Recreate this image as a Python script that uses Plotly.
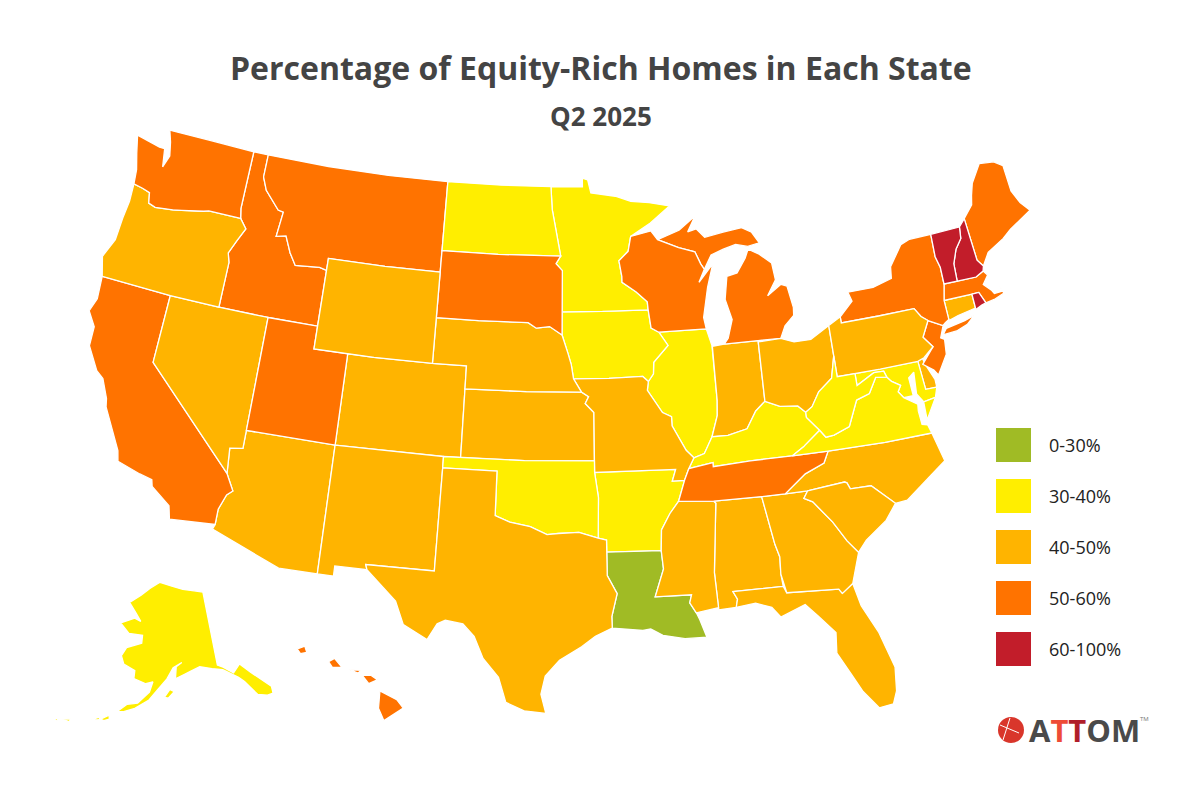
import plotly.graph_objects as go

# state outlines (lon, lat), traced by hand because the plotly base map needs a CDN download
WA = [(-124.7,48.38),(-123.1,48.15),(-122.75,48.15),(-122.55,47.35),(-122.3,47.9),(-122.5,48.5),(-122.76,49),(-117.03,49),(-117.04,46.42),(-116.92,46),(-118.98,46),(-119.3,45.93),(-120.65,45.73),(-121.2,45.65),(-122.3,45.55),(-122.76,45.65),(-122.9,46.1),(-123.4,46.2),(-124,46.27),(-124.1,46.9),(-124.4,47.6)]
OR = [(-124,46.27),(-123.4,46.2),(-122.9,46.1),(-122.76,45.65),(-122.3,45.55),(-121.2,45.65),(-120.65,45.73),(-119.3,45.93),(-118.98,46),(-116.92,46),(-116.46,45.6),(-116.85,45),(-117.2,44.4),(-117.03,44),(-117.03,42),(-120,42),(-124.21,42),(-124.55,42.84),(-124.1,43.7),(-124.05,44.7),(-123.95,45.5)]
CA = [(-124.21,42),(-120,42),(-120,39),(-114.63,35),(-114.14,34.3),(-114.43,34.08),(-114.72,33.4),(-114.72,32.72),(-117.12,32.53),(-117.3,33.1),(-118.4,33.75),(-118.5,34.03),(-119.2,34.15),(-120.5,34.45),(-120.65,34.9),(-121.9,36.6),(-122,36.95),(-122.5,37.75),(-122.95,38),(-123.75,38.95),(-123.8,39.8),(-124.35,40.4),(-124.1,41)]
NV = [(-120,42),(-117.03,42),(-114.04,42),(-114.04,36.2),(-114.75,36.1),(-114.63,35),(-120,39)]
ID = [(-117.03,49),(-116.05,49),(-116.05,48),(-115.7,47.45),(-114.7,46.7),(-114.35,46.65),(-114.5,45.55),(-113.9,45.65),(-113.45,44.95),(-113,44.45),(-111.5,44.55),(-111.05,44.47),(-111.05,42),(-114.04,42),(-117.03,42),(-117.03,44),(-117.2,44.4),(-116.85,45),(-116.46,45.6),(-116.92,46),(-117.04,46.42)]
MT = [(-116.05,49),(-112,49),(-108,49),(-104.05,49),(-104.05,45.94),(-104.05,45),(-107.5,45),(-111.05,45),(-111.05,44.47),(-111.5,44.55),(-113,44.45),(-113.45,44.95),(-113.9,45.65),(-114.5,45.55),(-114.35,46.65),(-114.7,46.7),(-115.7,47.45),(-116.05,48)]
WY = [(-111.05,45),(-107.5,45),(-104.05,45),(-104.05,43),(-104.05,41),(-107.5,41),(-111.05,41),(-111.05,42)]
UT = [(-114.04,42),(-111.05,42),(-111.05,41),(-109.05,41),(-109.05,37),(-114.04,37)]
CO = [(-109.05,41),(-107.5,41),(-104.05,41),(-102.05,41),(-102.05,40),(-102.05,37),(-103,37),(-109.05,37)]
AZ = [(-114.04,37),(-109.05,37),(-109.05,31.33),(-111.07,31.33),(-114.81,32.5),(-114.72,32.72),(-114.72,33.4),(-114.43,34.08),(-114.14,34.3),(-114.63,35),(-114.75,36.1),(-114.04,36.2)]
NM = [(-109.05,37),(-103,37),(-103,36.5),(-103.04,32),(-106.62,32),(-106.53,31.78),(-108.21,31.78),(-108.21,31.33),(-109.05,31.33)]
ND = [(-104.05,49),(-100.5,49),(-97.23,49),(-97.13,48),(-96.85,47),(-96.56,45.94),(-100.5,45.94),(-104.05,45.94)]
SD = [(-104.05,45.94),(-100.5,45.94),(-96.56,45.94),(-96.85,45.6),(-96.45,45.3),(-96.45,43.5),(-96.45,42.49),(-97.2,42.85),(-98,42.77),(-98.5,43),(-101.5,43),(-104.05,43)]
NE = [(-104.05,43),(-101.5,43),(-98.5,43),(-98,42.77),(-97.2,42.85),(-96.45,42.49),(-96.1,41.7),(-95.9,41.2),(-95.77,40.58),(-95.31,40),(-98.5,40),(-102.05,40),(-102.05,41),(-104.05,41)]
KS = [(-102.05,40),(-98.5,40),(-95.31,40),(-94.9,39.8),(-95.1,39.5),(-94.61,39.11),(-94.62,37),(-98.5,37),(-102.05,37)]
OK = [(-103,37),(-98.5,37),(-94.62,37),(-94.62,36.5),(-94.43,35.4),(-94.48,33.64),(-95.5,33.9),(-96.6,33.85),(-97.2,33.8),(-98.1,34.13),(-99.2,34.3),(-100,34.56),(-100,36.5),(-103,36.5)]
TX = [(-103,36.5),(-100,36.5),(-100,34.56),(-99.2,34.3),(-98.1,34.13),(-97.2,33.8),(-96.6,33.85),(-95.5,33.9),(-94.48,33.64),(-94.04,33.55),(-94.04,33.02),(-94.04,32),(-93.55,31.2),(-93.85,30.2),(-93.84,29.7),(-94.7,29.35),(-95.4,28.9),(-96.5,28.3),(-97.2,27.6),(-97.4,26.8),(-97.15,25.95),(-98.2,26.05),(-99.1,26.4),(-99.5,27.5),(-100.3,28.3),(-100.8,29.25),(-101.4,29.77),(-102.3,29.88),(-102.7,29.7),(-103.15,28.98),(-104.4,29.55),(-104.9,30.55),(-106.53,31.78),(-106.62,32),(-103.04,32)]
MN = [(-97.23,49),(-95.15,49),(-95.15,49.38),(-94.8,49.3),(-94.6,48.72),(-93,48.55),(-92,48.3),(-90.8,48.2),(-89.5,48),(-90.8,47.3),(-92.1,46.75),(-92.3,46.1),(-92.9,45.7),(-92.75,45),(-92.75,44.75),(-91.9,44.3),(-91.25,43.85),(-91.22,43.5),(-94,43.5),(-96.45,43.5),(-96.45,45.3),(-96.85,45.6),(-96.56,45.94),(-96.85,47),(-97.13,48)]
IA = [(-96.45,43.5),(-94,43.5),(-91.22,43.5),(-91.1,42.7),(-90.65,42.5),(-90.15,41.9),(-91.05,41.2),(-91.1,40.7),(-91.42,40.38),(-91.73,40.61),(-93.7,40.58),(-95.77,40.58),(-95.9,41.2),(-96.1,41.7),(-96.45,42.49)]
MO = [(-95.77,40.58),(-93.7,40.58),(-91.73,40.61),(-91.42,40.38),(-91.5,40),(-90.7,39),(-90.2,38.8),(-90.2,38.4),(-89.5,37.3),(-89.1,36.95),(-89.42,36.5),(-89.7,36),(-90.37,36),(-90.15,36.5),(-94.62,36.5),(-94.62,37),(-94.61,39.11),(-95.1,39.5),(-94.9,39.8),(-95.31,40)]
AR = [(-94.62,36.5),(-90.15,36.5),(-90.37,36),(-89.7,36),(-90.1,35.1),(-90.6,34.6),(-91.1,33.9),(-91.17,33),(-94.04,33.02),(-94.04,33.55),(-94.48,33.64),(-94.43,35.4)]
LA = [(-94.04,33.02),(-91.17,33),(-91.1,32.2),(-91.6,31),(-89.73,31),(-89.85,30.65),(-89.55,30.2),(-89.4,29.9),(-89.1,29.1),(-90.2,29.1),(-91.3,29.3),(-91.9,29.6),(-92.3,29.55),(-93.84,29.7),(-93.85,30.2),(-93.55,31.2),(-94.04,32)]
MS = [(-91.17,33),(-91.1,33.9),(-90.6,34.6),(-90.1,35.1),(-88.2,35),(-88.1,34.9),(-88.47,31.9),(-88.4,30.35),(-89.55,30.2),(-89.85,30.65),(-89.73,31),(-91.6,31),(-91.1,32.2)]
AL = [(-88.2,35),(-85.6,35),(-85.18,32.87),(-85,32.3),(-85.05,31.55),(-85,31),(-87.6,31),(-87.4,30.65),(-87.5,30.3),(-88.4,30.25),(-88.47,31.9),(-88.1,34.9)]
TN = [(-90.1,35.1),(-88.2,35),(-85.6,35),(-84.32,35),(-83.1,35.75),(-82,36.1),(-81.68,36.59),(-83.68,36.6),(-86,36.6),(-88.07,36.5),(-88.07,36.68),(-89.42,36.5),(-89.7,36)]
KY = [(-89.42,36.5),(-88.07,36.68),(-88.07,36.5),(-86,36.6),(-83.68,36.6),(-82.95,36.95),(-81.97,37.54),(-82.6,38.17),(-82.6,38.4),(-83,38.72),(-84,38.8),(-84.82,39.1),(-85.4,38.73),(-86,38),(-87.1,37.8),(-88,37.8),(-88.5,37.1),(-89.1,36.95)]
IL = [(-90.65,42.5),(-87.8,42.5),(-87.55,41.75),(-87.53,39.35),(-87.6,38.7),(-88,37.8),(-88.5,37.1),(-89.1,36.95),(-89.5,37.3),(-90.2,38.4),(-90.2,38.8),(-90.7,39),(-91.5,40),(-91.42,40.38),(-91.1,40.7),(-91.05,41.2),(-90.15,41.9)]
WI = [(-92.1,46.75),(-90.8,46.95),(-90.4,46.55),(-89.1,46.14),(-88.1,45.9),(-87.8,45.35),(-87.6,45.1),(-88,44.55),(-87.05,45.3),(-87.5,44.3),(-87.9,43),(-87.8,42.5),(-90.65,42.5),(-91.1,42.7),(-91.22,43.5),(-91.25,43.85),(-91.9,44.3),(-92.75,44.75),(-92.75,45),(-92.9,45.7),(-92.3,46.1)]
MI_LOWER = [(-84.75,45.78),(-85,45.4),(-85.6,44.8),(-86.25,44.7),(-86.5,43.7),(-86.2,42.8),(-86.55,42),(-86.82,41.76),(-84.8,41.76),(-83.45,41.73),(-83.1,42.25),(-82.5,42.65),(-82.45,43),(-82.65,43.95),(-83,44.07),(-83.9,43.65),(-83.3,44.3),(-83.4,45.05),(-84.1,45.5)]
MI_UPPER = [(-90.4,46.55),(-89.1,46.14),(-88.1,45.9),(-87.8,45.35),(-87.6,45.1),(-87.1,45.7),(-86.3,45.9),(-85.5,46.05),(-84.75,45.9),(-84,46),(-84.4,46.5),(-85,46.75),(-86.2,46.65),(-87.4,46.5),(-87.9,46.9),(-88.45,46.8),(-87.9,47.47),(-89,46.9)]
IN = [(-87.53,41.72),(-86.82,41.76),(-84.8,41.76),(-84.82,39.1),(-85.4,38.73),(-86,38),(-87.1,37.8),(-88,37.8),(-87.6,38.7),(-87.53,39.35)]
OH = [(-84.8,41.7),(-83.45,41.73),(-82.7,41.5),(-81.7,41.5),(-80.52,41.98),(-80.52,40.64),(-80.85,39.7),(-81.7,39.2),(-82.2,38.6),(-82.6,38.4),(-83,38.72),(-84,38.8),(-84.82,39.1)]
WV = [(-80.52,40.64),(-80.52,39.72),(-79.48,39.72),(-79.48,39.2),(-78.4,39.62),(-77.83,39.6),(-77.72,39.32),(-78.35,39.4),(-78.87,38.76),(-79.65,38.58),(-80.3,37.5),(-81.22,37.24),(-81.68,37.2),(-81.97,37.54),(-82.6,38.17),(-82.6,38.4),(-82.2,38.6),(-81.7,39.2),(-80.85,39.7)]
VA = [(-83.68,36.6),(-81.68,36.59),(-78.5,36.55),(-75.87,36.55),(-76,36.93),(-76.3,37),(-76.35,37.6),(-76.3,37.9),(-77,38.3),(-77.25,38.6),(-77.04,38.85),(-77.5,39.1),(-77.72,39.32),(-78.35,39.4),(-78.87,38.76),(-79.65,38.58),(-80.3,37.5),(-81.22,37.24),(-81.68,37.2),(-81.97,37.54),(-82.95,36.95)]
VA_SHORE = [(-75.97,37.15),(-75.95,37.95),(-75.25,38.03)]
MD = [(-79.48,39.72),(-75.79,39.72),(-75.69,38.46),(-75.05,38.45),(-75.25,38.03),(-75.95,37.95),(-76.25,38.35),(-76.15,39.3),(-76.5,39.1),(-76.45,38.3),(-77,38.3),(-77.25,38.6),(-77.04,38.85),(-77.5,39.1),(-77.72,39.32),(-77.83,39.6),(-78.4,39.62),(-79.48,39.2)]
DE = [(-75.79,39.72),(-75.5,39.83),(-75.4,39.5),(-75.05,38.8),(-75.05,38.45),(-75.69,38.46)]
NJ = [(-74.7,41.36),(-73.9,41),(-74.2,40.5),(-74,40.4),(-74.1,39.75),(-74.8,38.95),(-75,39.2),(-75.55,39.55),(-74.75,40.2),(-75.2,40.7)]
PA = [(-80.52,41.98),(-79.76,42.27),(-79.76,42),(-77.5,42),(-75.35,42),(-75.05,41.6),(-74.7,41.36),(-75.2,40.7),(-74.75,40.2),(-75.4,39.82),(-75.79,39.72),(-78,39.72),(-80.52,39.72)]
NY = [(-79.76,42.27),(-78.9,42.85),(-79.05,43.27),(-77.5,43.27),(-76.3,43.5),(-76.2,44),(-75.3,44.85),(-74.7,45),(-73.34,45),(-73.4,44),(-73.25,43.5),(-73.27,42.75),(-73.5,42.05),(-73.49,41.2),(-73.73,41.1),(-73.9,41),(-74.7,41.36),(-75.05,41.6),(-75.35,42),(-77.5,42),(-79.76,42)]
LONG_ISLAND = [(-74.03,40.6),(-73.75,40.85),(-72.6,40.98),(-72,41.1),(-72.5,40.8),(-73.2,40.63)]
CT = [(-73.5,42.05),(-71.8,42.02),(-71.8,41.4),(-72.9,41.27),(-73.73,41.1),(-73.49,41.2)]
RI = [(-71.8,42.02),(-71.38,42.02),(-71.13,41.5),(-71.4,41.45),(-71.85,41.32),(-71.8,41.4)]
MA = [(-73.5,42.05),(-73.27,42.75),(-72.46,42.73),(-71.3,42.7),(-70.8,42.87),(-70.6,42.65),(-71,42.3),(-70.6,41.95),(-70.5,41.8),(-70,41.8),(-70.1,42.07),(-69.95,41.7),(-70.6,41.55),(-71.13,41.5),(-71.38,42.02),(-71.8,42.02)]
VT = [(-73.34,45),(-71.5,45),(-71.6,44.5),(-72.05,44.1),(-72.4,43.5),(-72.46,42.73),(-73.27,42.75),(-73.25,43.5),(-73.4,44)]
NH = [(-71.5,45),(-71.08,45.3),(-70.98,43.4),(-70.7,43.08),(-70.8,42.87),(-71.3,42.7),(-72.46,42.73),(-72.4,43.5),(-72.05,44.1),(-71.6,44.5)]
ME = [(-71.08,45.3),(-70.4,45.8),(-70.25,46.2),(-70,46.7),(-69.22,47.46),(-68.3,47.35),(-67.8,47.07),(-67.78,45.9),(-67.45,45.3),(-67,44.85),(-68.5,44.3),(-69.1,44),(-70.2,43.6),(-70.7,43.08),(-70.98,43.4)]
NC = [(-84.32,35),(-83.1,35.75),(-82,36.1),(-81.68,36.59),(-78.5,36.55),(-75.87,36.55),(-75.5,35.25),(-76.5,34.7),(-77.9,33.9),(-78.55,33.86),(-79.67,34.8),(-80.8,34.82),(-80.93,35.1),(-81.05,35.15),(-83.1,35)]
SC = [(-83.1,35),(-81.05,35.15),(-80.93,35.1),(-80.8,34.82),(-79.67,34.8),(-78.55,33.86),(-79.2,33.2),(-80.4,32.5),(-80.9,32.03),(-81.4,32.6),(-82,33.5),(-82.9,34.5),(-83.35,34.7)]
GA = [(-85.6,35),(-84.32,35),(-83.1,35),(-83.35,34.7),(-82.9,34.5),(-82,33.5),(-81.4,32.6),(-80.9,32.03),(-81.45,30.72),(-82.05,30.36),(-82.2,30.57),(-84.86,30.71),(-85.05,31.55),(-85,32.3),(-85.18,32.87)]
FL = [(-87.6,31),(-85,31),(-84.86,30.71),(-82.2,30.57),(-82.05,30.36),(-81.45,30.72),(-81.2,29.7),(-80.55,28.45),(-80.03,26.8),(-80.15,25.75),(-80.4,25.2),(-81.1,25.13),(-81.75,25.95),(-82.2,26.8),(-82.75,27.8),(-82.65,28.7),(-83.4,29.5),(-84,30.1),(-85.3,29.68),(-85.7,30.15),(-86.5,30.4),(-87.5,30.3),(-87.4,30.65)]
AK = [(-141,69.65),(-141,60.3),(-139.7,59.9),(-137.5,58.9),(-135.5,59.8),(-133.5,58.4),(-130,55.9),(-130.2,55),(-131.5,55),(-133.5,55.5),(-135.5,57.5),(-136.6,58.2),(-139.9,59.6),(-142.5,60),(-145.5,60.45),(-148,60),(-149.5,59.7),(-151.8,59.2),(-151.5,60.7),(-150,61.2),(-152.3,60.6),(-153.9,59.2),(-156,57.9),(-158,56.5),(-161,55.3),(-163.5,54.7),(-164.8,54.6),(-162.8,55.7),(-160.5,56),(-158,57.5),(-157.3,58.8),(-159,58.5),(-162,59),(-162,60),(-165,60.6),(-166,61.6),(-165,62.7),(-161,63.5),(-161,64.5),(-165,64.5),(-168,65.6),(-164,66.5),(-162,66.2),(-163.7,67.1),(-166.5,68.35),(-163,69.5),(-160,70.5),(-156.5,71.35),(-152,70.85),(-148,70.35),(-144,70)]
KODIAK = [(-154.5,56.9),(-153.2,57.9),(-152.2,57.6),(-153.6,56.8)]
UNALASKA = [(-167.9,53.3),(-166.3,54),(-166.1,53.5),(-167.2,53.2)]
UMNAK = [(-169.9,52.9),(-168,53.6),(-168.2,53.2)]
ATKA = [(-175.5,52),(-173.9,52.4),(-174,52)]
ADAK = [(-177.5,51.7),(-176.3,52),(-176.4,51.65)]
BIG_ISLAND = [(-155.88,20.26),(-155.1,19.87),(-154.8,19.5),(-155.7,18.95),(-155.95,19.5)]
MAUI = [(-156.7,20.95),(-156.3,20.95),(-156,20.75),(-156.4,20.58)]
MOLOKAI = [(-157.3,21.2),(-156.75,21.17),(-156.9,21.05)]
OAHU = [(-158.28,21.55),(-158,21.7),(-157.65,21.3),(-158.1,21.3)]
KAUAI = [(-159.75,22.1),(-159.4,22.23),(-159.3,21.95),(-159.6,21.9)]

STATES = ["AL","AK","AZ","AR","CA","CO","CT","DE","FL","GA","HI","ID","IL","IN","IA","KS","KY","LA","ME","MD","MA","MI","MN","MS","MO","MT","NE","NV","NH","NJ","NM","NY","NC","ND","OH","OK","OR","PA","RI","SC","SD","TN","TX","UT","VT","VA","WA","WV","WI","WY"]
BINS = [2,1,2,1,3,2,2,2,2,2,3,3,1,2,1,2,1,0,3,1,3,3,1,2,2,3,2,2,4,3,2,3,2,1,2,1,2,2,4,2,3,3,2,3,4,1,3,1,3,2]
COLORS = ["#a0bb25","#ffee00","#ffb400","#ff7300","#c21d2a"]
LABELS = ["0-30%","30-40%","40-50%","50-60%","60-100%"]

RINGS = {
    "AL": [AL], "AK": [AK, KODIAK, UNALASKA, UMNAK, ATKA, ADAK], "AZ": [AZ], "AR": [AR], "CA": [CA], "CO": [CO],
    "CT": [CT], "DE": [DE], "FL": [FL], "GA": [GA], "HI": [BIG_ISLAND, MAUI, MOLOKAI, OAHU, KAUAI], "ID": [ID],
    "IL": [IL], "IN": [IN], "IA": [IA], "KS": [KS], "KY": [KY], "LA": [LA], "ME": [ME], "MD": [MD], "MA": [MA],
    "MI": [MI_LOWER, MI_UPPER], "MN": [MN], "MS": [MS], "MO": [MO], "MT": [MT], "NE": [NE], "NV": [NV], "NH": [NH],
    "NJ": [NJ], "NM": [NM], "NY": [NY, LONG_ISLAND], "NC": [NC], "ND": [ND], "OH": [OH], "OK": [OK], "OR": [OR],
    "PA": [PA], "RI": [RI], "SC": [SC], "SD": [SD], "TN": [TN], "TX": [TX], "UT": [UT], "VT": [VT],
    "VA": [VA, VA_SHORE], "WA": [WA], "WV": [WV], "WI": [WI], "WY": [WY],
}

# albers usa clips to its own fitted box, so the map size comes from the figure width (scale stays 1).
# The map sits left of the window centre, hence the figure starts left of the window.
FIG_LEFT = -35
FIG_TOP = 8
WIDTH = 1188
HEIGHT = 795


def px(x):
    return (x - FIG_LEFT) / WIDTH


def py(y):
    return 1 - (y - FIG_TOP) / HEIGHT


def clockwise(ring):
    """d3 fills the outside of a polygon unless it winds clockwise."""
    area = sum(a[0] * b[1] - b[0] * a[1] for a, b in zip(ring, ring[1:] + ring[:1]))
    return ring if area < 0 else ring[::-1]


def state_trace(code, color):
    lons, lats = [], []
    for ring in RINGS[code]:
        ring = clockwise(ring)
        lons += [p[0] for p in ring] + [ring[0][0], None]
        lats += [p[1] for p in ring] + [ring[0][1], None]
    return go.Scattergeo(
        lon=lons[:-1], lat=lats[:-1], name=code, mode="lines", fill="toself",
        fillcolor=color, line=dict(color="white", width=1.3),
        hoverinfo="name", showlegend=False,
    )


def add_text(fig, x, y, text, size, color, anchor="center"):
    fig.add_annotation(x=px(x), y=py(y), xref="paper", yref="paper", text=text, showarrow=False,
                       xanchor=anchor, yanchor="middle", font=dict(family="Open Sans", size=size, color=color))


fig = go.Figure()
for code, b in zip(STATES, BINS):
    fig.add_trace(state_trace(code, COLORS[b]))

fig.update_geos(
    scope="usa", projection_type="albers usa", projection_scale=1, bgcolor="rgba(0,0,0,0)",
    showland=False, showlakes=False, showsubunits=False, showcoastlines=False,
    showcountries=False, showframe=False, showocean=False, showrivers=False,
    domain=dict(x=[0, 1], y=[py(754), py(90)]),
)

# legend swatches and labels
for i, (c, label) in enumerate(zip(COLORS, LABELS)):
    y0 = 428 + i * 51
    fig.add_shape(type="rect", xref="paper", yref="paper", x0=px(996), x1=px(1031),
                  y0=py(y0), y1=py(y0 + 34), fillcolor=c, line_width=0)
    add_text(fig, 1047, y0 + 17, label, 18, "#222222", "left")

add_text(fig, 601, 68, "<b>Percentage of Equity-Rich Homes in Each State</b>", 32, "#444444")
add_text(fig, 601, 116, "<b>Q2 2025</b>", 26, "#444444")

# ATTOM logo
fig.add_shape(type="circle", xref="paper", yref="paper", x0=px(998), x1=px(1024),
              y0=py(743), y1=py(717), fillcolor="#d9362b", line_width=0)
fig.add_shape(type="line", xref="paper", yref="paper", x0=px(1000), x1=px(1019),
              y0=py(725), y1=py(733), line=dict(color="white", width=1))
fig.add_shape(type="line", xref="paper", yref="paper", x0=px(1010), x1=px(1003),
              y0=py(718), y1=py(740), line=dict(color="white", width=1))
add_text(fig, 1027, 730, "<b>A<span style='color:#ee4b36'>T</span><span style='color:#b01e2a'>T</span>OM</b>",
         31, "#4a4a4a", "left")
add_text(fig, 1144, 719, "TM", 6, "#777777")

fig.update_layout(width=WIDTH, height=HEIGHT, margin=dict(l=0, r=0, t=0, b=0), paper_bgcolor="white")
# body margin is 8px, so -43px puts the figure's left edge at FIG_LEFT
fig.write_html("out.html", post_script="document.querySelector('.plotly-graph-div').style.marginLeft = '-43px';")
